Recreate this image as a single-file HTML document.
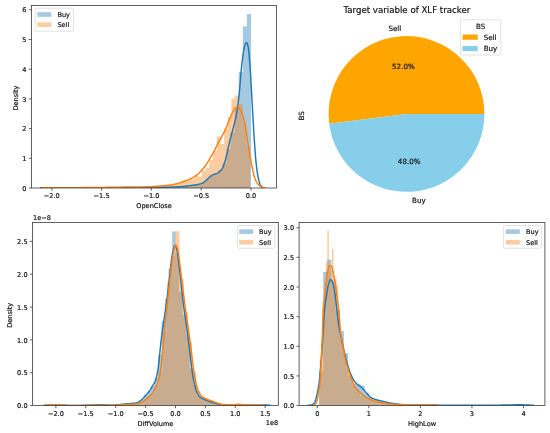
<!DOCTYPE html>
<html lang="en"><head><meta charset="utf-8"><title>Target variable of XLF tracker</title>
<style>html,body{margin:0;padding:0;background:#fff}body{width:550px;height:433px;overflow:hidden}svg{display:block;filter:blur(0.35px)}text{font-family:"DejaVu Sans","Liberation Sans",sans-serif}</style>
</head><body>
<svg width="550" height="433" viewBox="0 0 550 433" font-family="'DejaVu Sans', 'Liberation Sans', sans-serif">
<rect width="550" height="433" fill="#fff"/>
<clipPath id="c1"><rect x="31.5" y="5.5" width="245.0" height="182.5"/></clipPath>
<g clip-path="url(#c1)">
<path d="M246.90,188.00V14.00H251.00V188.00ZM242.80,188.00V26.20H246.90V188.00ZM238.70,188.00V72.00H242.80V188.00ZM234.60,188.00V108.00H238.70V188.00ZM230.50,188.00V132.13H234.60V188.00ZM226.40,188.00V149.34H230.50V188.00ZM222.30,188.00V163.29H226.40V188.00ZM218.20,188.00V169.76H222.30V188.00ZM214.10,188.00V174.12H218.20V188.00ZM210.00,188.00V175.79H214.10V188.00ZM205.90,188.00V178.47H210.00V188.00ZM201.80,188.00V182.09H205.90V188.00ZM197.70,188.00V183.99H201.80V188.00ZM193.60,188.00V185.03H197.70V188.00ZM189.50,188.00V185.40H193.60V188.00ZM185.40,188.00V185.90H189.50V188.00ZM181.30,188.00V186.57H185.40V188.00ZM177.20,188.00V186.75H181.30V188.00ZM173.10,188.00V187.04H177.20V188.00ZM169.00,188.00V187.14H173.10V188.00ZM164.90,188.00V187.28H169.00V188.00ZM160.80,188.00V187.30H164.90V188.00ZM156.70,188.00V187.42H160.80V188.00ZM152.60,188.00V187.43H156.70V188.00ZM148.50,188.00V187.49H152.60V188.00ZM144.40,188.00V187.54H148.50V188.00ZM140.30,188.00V187.64H144.40V188.00ZM136.20,188.00V187.62H140.30V188.00ZM132.10,188.00V187.64H136.20V188.00ZM128.00,188.00V187.66H132.10V188.00ZM123.90,188.00V187.71H128.00V188.00ZM119.80,188.00V187.70H123.90V188.00ZM115.70,188.00V187.72H119.80V188.00ZM111.60,188.00V187.73H115.70V188.00ZM107.50,188.00V187.71H111.60V188.00ZM103.40,188.00V187.74H107.50V188.00ZM99.30,188.00V187.74H103.40V188.00ZM95.20,188.00V187.73H99.30V188.00ZM91.10,188.00V187.76H95.20V188.00ZM87.00,188.00V187.76H91.10V188.00Z" fill="#1f77b4" fill-opacity="0.4"/>
<path d="M246.30,188.00V147.00H250.00V188.00ZM242.60,188.00V121.70H246.30V188.00ZM238.90,188.00V104.00H242.60V188.00ZM235.20,188.00V95.50H238.90V188.00ZM231.50,188.00V98.60H235.20V188.00ZM227.80,188.00V117.00H231.50V188.00ZM224.10,188.00V128.80H227.80V188.00ZM220.40,188.00V144.00H224.10V188.00ZM216.70,188.00V136.40H220.40V188.00ZM213.00,188.00V151.00H216.70V188.00ZM209.30,188.00V160.00H213.00V188.00ZM205.60,188.00V168.00H209.30V188.00ZM201.90,188.00V170.50H205.60V188.00ZM198.20,188.00V176.50H201.90V188.00ZM194.50,188.00V175.50H198.20V188.00ZM190.80,188.00V179.00H194.50V188.00ZM187.10,188.00V179.52H190.80V188.00ZM183.40,188.00V180.34H187.10V188.00ZM179.70,188.00V181.26H183.40V188.00ZM176.00,188.00V183.82H179.70V188.00ZM172.30,188.00V184.22H176.00V188.00ZM168.60,188.00V185.11H172.30V188.00ZM164.90,188.00V185.35H168.60V188.00ZM161.20,188.00V186.07H164.90V188.00ZM157.50,188.00V186.19H161.20V188.00ZM153.80,188.00V186.36H157.50V188.00ZM150.10,188.00V186.43H153.80V188.00ZM146.40,188.00V186.64H150.10V188.00ZM142.70,188.00V187.08H146.40V188.00ZM139.00,188.00V187.04H142.70V188.00ZM135.30,188.00V186.88H139.00V188.00ZM131.60,188.00V187.22H135.30V188.00ZM127.90,188.00V187.06H131.60V188.00ZM124.20,188.00V187.06H127.90V188.00ZM120.50,188.00V186.97H124.20V188.00ZM116.80,188.00V187.10H120.50V188.00ZM113.10,188.00V187.26H116.80V188.00ZM109.40,188.00V187.32H113.10V188.00ZM105.70,188.00V187.35H109.40V188.00ZM102.00,188.00V187.26H105.70V188.00ZM98.30,188.00V187.44H102.00V188.00ZM94.60,188.00V187.47H98.30V188.00ZM90.90,188.00V187.47H94.60V188.00ZM87.20,188.00V187.53H90.90V188.00ZM83.50,188.00V187.57H87.20V188.00ZM79.80,188.00V187.64H83.50V188.00ZM76.10,188.00V187.61H79.80V188.00ZM72.40,188.00V187.66H76.10V188.00ZM68.70,188.00V187.62H72.40V188.00ZM65.00,188.00V187.66H68.70V188.00ZM61.30,188.00V187.71H65.00V188.00Z" fill="#ff7f0e" fill-opacity="0.4"/>
<path d="M40.00,187.80 L40.75,187.80 L41.50,187.80 L42.25,187.80 L43.00,187.80 L43.75,187.80 L44.49,187.80 L45.24,187.80 L45.99,187.80 L46.74,187.80 L47.49,187.80 L48.24,187.80 L48.99,187.80 L49.74,187.80 L50.49,187.80 L51.24,187.80 L51.99,187.80 L52.74,187.80 L53.48,187.80 L54.23,187.80 L54.98,187.80 L55.73,187.80 L56.48,187.80 L57.23,187.79 L57.98,187.79 L58.73,187.79 L59.48,187.79 L60.23,187.79 L60.98,187.79 L61.73,187.79 L62.47,187.79 L63.22,187.79 L63.97,187.79 L64.72,187.79 L65.47,187.79 L66.22,187.79 L66.97,187.79 L67.72,187.79 L68.47,187.79 L69.22,187.79 L69.97,187.78 L70.72,187.78 L71.46,187.78 L72.21,187.78 L72.96,187.78 L73.71,187.78 L74.46,187.78 L75.21,187.78 L75.96,187.78 L76.71,187.78 L77.46,187.78 L78.21,187.78 L78.96,187.77 L79.71,187.77 L80.45,187.77 L81.20,187.77 L81.95,187.77 L82.70,187.77 L83.45,187.77 L84.20,187.77 L84.95,187.77 L85.70,187.77 L86.45,187.76 L87.20,187.76 L87.95,187.76 L88.70,187.76 L89.44,187.76 L90.19,187.76 L90.94,187.76 L91.69,187.76 L92.44,187.76 L93.19,187.75 L93.94,187.75 L94.69,187.75 L95.44,187.75 L96.19,187.75 L96.94,187.75 L97.69,187.75 L98.43,187.74 L99.18,187.74 L99.93,187.74 L100.68,187.74 L101.43,187.74 L102.18,187.74 L102.93,187.74 L103.68,187.74 L104.43,187.73 L105.18,187.73 L105.93,187.73 L106.68,187.73 L107.42,187.73 L108.17,187.73 L108.92,187.72 L109.67,187.72 L110.42,187.72 L111.17,187.72 L111.92,187.72 L112.67,187.72 L113.42,187.71 L114.17,187.71 L114.92,187.71 L115.67,187.71 L116.41,187.71 L117.16,187.71 L117.91,187.70 L118.66,187.70 L119.41,187.70 L120.16,187.70 L120.91,187.70 L121.66,187.70 L122.41,187.69 L123.16,187.69 L123.91,187.69 L124.66,187.69 L125.40,187.68 L126.15,187.68 L126.90,187.68 L127.65,187.67 L128.40,187.67 L129.15,187.67 L129.90,187.66 L130.65,187.66 L131.40,187.65 L132.15,187.65 L132.90,187.64 L133.65,187.64 L134.39,187.63 L135.14,187.63 L135.89,187.62 L136.64,187.62 L137.39,187.61 L138.14,187.61 L138.89,187.60 L139.64,187.60 L140.39,187.59 L141.14,187.58 L141.89,187.58 L142.64,187.57 L143.38,187.56 L144.13,187.56 L144.88,187.55 L145.63,187.54 L146.38,187.54 L147.13,187.53 L147.88,187.52 L148.63,187.51 L149.38,187.51 L150.13,187.50 L150.88,187.49 L151.63,187.48 L152.37,187.47 L153.12,187.46 L153.87,187.45 L154.62,187.44 L155.37,187.43 L156.12,187.42 L156.87,187.41 L157.62,187.39 L158.37,187.38 L159.12,187.36 L159.87,187.35 L160.62,187.34 L161.36,187.32 L162.11,187.30 L162.86,187.29 L163.61,187.27 L164.36,187.25 L165.11,187.23 L165.86,187.21 L166.61,187.19 L167.36,187.17 L168.11,187.15 L168.86,187.13 L169.61,187.11 L170.35,187.09 L171.10,187.07 L171.85,187.04 L172.60,187.02 L173.35,186.99 L174.10,186.96 L174.85,186.93 L175.60,186.90 L176.35,186.86 L177.10,186.82 L177.85,186.79 L178.60,186.75 L179.34,186.70 L180.09,186.66 L180.84,186.61 L181.59,186.56 L182.34,186.51 L183.09,186.46 L183.84,186.40 L184.59,186.34 L185.34,186.26 L186.09,186.17 L186.84,186.07 L187.59,185.97 L188.33,185.86 L189.08,185.75 L189.83,185.64 L190.58,185.53 L191.33,185.43 L192.08,185.33 L192.83,185.24 L193.58,185.14 L194.33,185.04 L195.08,184.94 L195.83,184.83 L196.58,184.71 L197.32,184.57 L198.07,184.42 L198.82,184.26 L199.57,184.07 L200.32,183.85 L201.07,183.61 L201.82,183.33 L202.57,182.99 L203.32,182.56 L204.07,182.06 L204.82,181.51 L205.57,180.94 L206.31,180.34 L207.06,179.65 L207.81,178.89 L208.56,178.11 L209.31,177.36 L210.06,176.71 L210.81,176.15 L211.56,175.63 L212.31,175.17 L213.06,174.77 L213.81,174.46 L214.56,174.20 L215.30,173.96 L216.05,173.73 L216.80,173.46 L217.55,173.13 L218.30,172.71 L219.05,172.18 L219.80,171.56 L220.55,170.81 L221.30,169.94 L222.05,168.93 L222.80,167.56 L223.55,165.72 L224.29,163.55 L225.04,161.17 L225.79,158.61 L226.54,155.53 L227.29,152.13 L228.04,148.71 L228.79,145.35 L229.54,141.97 L230.29,138.85 L231.04,136.00 L231.79,133.30 L232.54,130.62 L233.28,127.84 L234.03,124.96 L234.78,122.15 L235.53,119.10 L236.28,115.50 L237.03,111.15 L237.78,106.02 L238.53,100.07 L239.28,93.23 L240.03,84.44 L240.78,74.95 L241.53,67.16 L242.27,60.36 L243.02,54.85 L243.77,50.26 L244.52,46.56 L245.27,44.34 L246.02,42.85 L246.77,42.65 L247.52,44.33 L248.27,47.33 L249.02,53.95 L249.77,63.03 L250.52,73.48 L251.26,86.67 L252.01,100.23 L252.76,113.68 L253.51,127.06 L254.26,139.00 L255.01,150.18 L255.76,159.62 L256.51,166.43 L257.26,172.18 L258.01,176.83 L258.76,180.21 L259.51,182.77 L260.25,184.78 L261.00,186.00 L261.75,186.71 L262.50,187.28 L263.25,187.66 L264.00,187.80" fill="none" stroke="#1f77b4" stroke-width="1.45" stroke-linejoin="round"/>
<path d="M42.00,187.80 L42.75,187.80 L43.50,187.80 L44.25,187.79 L45.00,187.79 L45.75,187.79 L46.49,187.79 L47.24,187.78 L47.99,187.78 L48.74,187.78 L49.49,187.78 L50.24,187.77 L50.99,187.77 L51.74,187.77 L52.49,187.76 L53.24,187.76 L53.99,187.76 L54.74,187.75 L55.48,187.75 L56.23,187.75 L56.98,187.74 L57.73,187.74 L58.48,187.73 L59.23,187.73 L59.98,187.73 L60.73,187.72 L61.48,187.72 L62.23,187.71 L62.98,187.71 L63.73,187.71 L64.47,187.70 L65.22,187.70 L65.97,187.69 L66.72,187.69 L67.47,187.68 L68.22,187.68 L68.97,187.67 L69.72,187.67 L70.47,187.66 L71.22,187.66 L71.97,187.65 L72.72,187.65 L73.46,187.64 L74.21,187.64 L74.96,187.63 L75.71,187.63 L76.46,187.62 L77.21,187.62 L77.96,187.61 L78.71,187.61 L79.46,187.60 L80.21,187.60 L80.96,187.59 L81.71,187.59 L82.45,187.58 L83.20,187.58 L83.95,187.57 L84.70,187.56 L85.45,187.56 L86.20,187.55 L86.95,187.55 L87.70,187.54 L88.45,187.53 L89.20,187.53 L89.95,187.52 L90.70,187.51 L91.44,187.50 L92.19,187.50 L92.94,187.49 L93.69,187.48 L94.44,187.48 L95.19,187.47 L95.94,187.46 L96.69,187.45 L97.44,187.44 L98.19,187.44 L98.94,187.43 L99.69,187.42 L100.43,187.41 L101.18,187.40 L101.93,187.39 L102.68,187.39 L103.43,187.38 L104.18,187.37 L104.93,187.36 L105.68,187.35 L106.43,187.34 L107.18,187.33 L107.93,187.33 L108.68,187.32 L109.42,187.31 L110.17,187.30 L110.92,187.29 L111.67,187.28 L112.42,187.27 L113.17,187.26 L113.92,187.24 L114.67,187.23 L115.42,187.22 L116.17,187.21 L116.92,187.20 L117.67,187.18 L118.41,187.17 L119.16,187.16 L119.91,187.14 L120.66,187.13 L121.41,187.12 L122.16,187.11 L122.91,187.09 L123.66,187.08 L124.41,187.07 L125.16,187.06 L125.91,187.05 L126.66,187.04 L127.40,187.03 L128.15,187.02 L128.90,187.01 L129.65,187.00 L130.40,187.00 L131.15,186.99 L131.90,186.99 L132.65,186.98 L133.40,186.98 L134.15,186.97 L134.90,186.97 L135.65,186.96 L136.39,186.96 L137.14,186.96 L137.89,186.95 L138.64,186.95 L139.39,186.95 L140.14,186.94 L140.89,186.94 L141.64,186.93 L142.39,186.93 L143.14,186.92 L143.89,186.91 L144.64,186.90 L145.38,186.89 L146.13,186.88 L146.88,186.86 L147.63,186.83 L148.38,186.80 L149.13,186.76 L149.88,186.72 L150.63,186.67 L151.38,186.63 L152.13,186.58 L152.88,186.52 L153.63,186.47 L154.37,186.41 L155.12,186.36 L155.87,186.30 L156.62,186.25 L157.37,186.19 L158.12,186.14 L158.87,186.09 L159.62,186.03 L160.37,185.97 L161.12,185.91 L161.87,185.85 L162.62,185.79 L163.36,185.72 L164.11,185.65 L164.86,185.58 L165.61,185.50 L166.36,185.43 L167.11,185.35 L167.86,185.26 L168.61,185.17 L169.36,185.08 L170.11,184.99 L170.86,184.88 L171.61,184.77 L172.35,184.64 L173.10,184.51 L173.85,184.37 L174.60,184.21 L175.35,184.05 L176.10,183.89 L176.85,183.71 L177.60,183.52 L178.35,183.31 L179.10,183.09 L179.85,182.85 L180.60,182.59 L181.34,182.33 L182.09,182.06 L182.84,181.79 L183.59,181.51 L184.34,181.24 L185.09,180.97 L185.84,180.69 L186.59,180.41 L187.34,180.12 L188.09,179.81 L188.84,179.50 L189.59,179.17 L190.33,178.82 L191.08,178.46 L191.83,178.08 L192.58,177.68 L193.33,177.26 L194.08,176.82 L194.83,176.35 L195.58,175.86 L196.33,175.34 L197.08,174.78 L197.83,174.20 L198.58,173.56 L199.32,172.86 L200.07,172.10 L200.82,171.30 L201.57,170.45 L202.32,169.57 L203.07,168.65 L203.82,167.71 L204.57,166.74 L205.32,165.74 L206.07,164.67 L206.82,163.55 L207.57,162.38 L208.31,161.18 L209.06,159.94 L209.81,158.67 L210.56,157.39 L211.31,156.10 L212.06,154.79 L212.81,153.44 L213.56,152.05 L214.31,150.62 L215.06,149.18 L215.81,147.72 L216.56,146.25 L217.30,144.79 L218.05,143.35 L218.80,141.93 L219.55,140.55 L220.30,139.20 L221.05,137.86 L221.80,136.51 L222.55,135.15 L223.30,133.75 L224.05,132.30 L224.80,130.78 L225.55,129.18 L226.29,127.42 L227.04,125.51 L227.79,123.53 L228.54,121.56 L229.29,119.66 L230.04,117.91 L230.79,116.23 L231.54,114.55 L232.29,112.95 L233.04,111.51 L233.79,110.29 L234.54,109.27 L235.28,108.26 L236.03,107.41 L236.78,106.89 L237.53,106.84 L238.28,107.22 L239.03,107.90 L239.78,108.74 L240.53,109.83 L241.28,111.54 L242.03,113.62 L242.78,115.82 L243.53,118.29 L244.27,121.16 L245.02,124.56 L245.77,128.86 L246.52,133.80 L247.27,138.98 L248.02,144.02 L248.77,148.58 L249.52,152.90 L250.27,157.08 L251.02,161.09 L251.77,165.08 L252.52,168.99 L253.26,172.47 L254.01,175.30 L254.76,177.80 L255.51,179.90 L256.26,181.51 L257.01,182.83 L257.76,183.94 L258.51,184.81 L259.26,185.50 L260.01,186.12 L260.76,186.63 L261.51,187.02 L262.25,187.27 L263.00,187.47 L263.75,187.64 L264.50,187.78 L265.25,187.87 L266.00,187.90" fill="none" stroke="#ff7f0e" stroke-width="1.45" stroke-linejoin="round"/>
</g>
<rect x="31.5" y="5.5" width="245.0" height="182.5" fill="none" stroke="#3a3a3a" stroke-width="0.8"/>
<text x="51.80" y="198.30" font-size="6.6" text-anchor="middle" fill="#111" stroke="#111" stroke-width="0.18">−2.0</text>
<text x="101.60" y="198.30" font-size="6.6" text-anchor="middle" fill="#111" stroke="#111" stroke-width="0.18">−1.5</text>
<text x="151.40" y="198.30" font-size="6.6" text-anchor="middle" fill="#111" stroke="#111" stroke-width="0.18">−1.0</text>
<text x="201.20" y="198.30" font-size="6.6" text-anchor="middle" fill="#111" stroke="#111" stroke-width="0.18">−0.5</text>
<text x="251.00" y="198.30" font-size="6.6" text-anchor="middle" fill="#111" stroke="#111" stroke-width="0.18">0.0</text>
<text x="26.50" y="190.65" font-size="6.6" text-anchor="end" fill="#111" stroke="#111" stroke-width="0.18">0</text>
<text x="26.50" y="160.95" font-size="6.6" text-anchor="end" fill="#111" stroke="#111" stroke-width="0.18">1</text>
<text x="26.50" y="131.25" font-size="6.6" text-anchor="end" fill="#111" stroke="#111" stroke-width="0.18">2</text>
<text x="26.50" y="101.55" font-size="6.6" text-anchor="end" fill="#111" stroke="#111" stroke-width="0.18">3</text>
<text x="26.50" y="71.85" font-size="6.6" text-anchor="end" fill="#111" stroke="#111" stroke-width="0.18">4</text>
<text x="26.50" y="42.15" font-size="6.6" text-anchor="end" fill="#111" stroke="#111" stroke-width="0.18">5</text>
<text x="26.50" y="12.45" font-size="6.6" text-anchor="end" fill="#111" stroke="#111" stroke-width="0.18">6</text>
<path d="M51.80,188.0v2.6M101.60,188.0v2.6M151.40,188.0v2.6M201.20,188.0v2.6M251.00,188.0v2.6M31.5,188.00h-2.6M31.5,158.30h-2.6M31.5,128.60h-2.6M31.5,98.90h-2.6M31.5,69.20h-2.6M31.5,39.50h-2.6M31.5,9.80h-2.6" stroke="#3a3a3a" stroke-width="0.8" fill="none"/>
<text x="154.00" y="208.00" font-size="6.6" text-anchor="middle" fill="#111" stroke="#111" stroke-width="0.18">OpenClose</text>
<text x="18.10" y="98.05" font-size="6.6" text-anchor="middle" fill="#111" stroke="#111" stroke-width="0.18" transform="rotate(-90 18.10 98.05)">Density</text>
<rect x="35.1" y="8.2" width="38.50" height="23.00" rx="1.3" fill="#fff" fill-opacity="0.8" stroke="#ccc" stroke-width="0.6"/>
<rect x="37.30" y="12.20" width="14.0" height="4.6" fill="#1f77b4" fill-opacity="0.4"/>
<text x="57.40" y="16.91" font-size="6.6" text-anchor="start" fill="#111" stroke="#111" stroke-width="0.18">Buy</text>
<rect x="37.30" y="22.40" width="14.0" height="4.6" fill="#ff7f0e" fill-opacity="0.4"/>
<text x="57.40" y="27.11" font-size="6.6" text-anchor="start" fill="#111" stroke="#111" stroke-width="0.18">Sell</text>
<path d="M406.5,113.9L484.4,113.9A77.9,77.9 0 1 0 329.21,123.66Z" fill="#ffa500"/>
<path d="M406.5,113.9L329.21,123.66A77.9,77.9 0 0 0 484.4,113.9Z" fill="#87ceeb"/>
<text x="406.90" y="12.60" font-size="8.65" text-anchor="middle" fill="#111" stroke="#111" stroke-width="0.18">Target variable of XLF tracker</text>
<text x="394.90" y="30.80" font-size="7.15" text-anchor="middle" fill="#111" stroke="#111" stroke-width="0.18">Sell</text>
<text x="418.90" y="202.50" font-size="7.15" text-anchor="middle" fill="#111" stroke="#111" stroke-width="0.18">Buy</text>
<text x="403.40" y="69.40" font-size="7.15" text-anchor="middle" fill="#111" stroke="#111" stroke-width="0.18">52.0%</text>
<text x="409.20" y="163.50" font-size="7.15" text-anchor="middle" fill="#111" stroke="#111" stroke-width="0.18">48.0%</text>
<text x="304.10" y="115.80" font-size="7.15" text-anchor="middle" fill="#111" stroke="#111" stroke-width="0.18" transform="rotate(-90 304.10 115.80)">BS</text>
<rect x="460.4" y="19.8" width="40.40" height="35.20" rx="1.3" fill="#fff" fill-opacity="0.8" stroke="#ccc" stroke-width="0.6"/>
<rect x="462.50" y="34.55" width="15.2" height="5.2" fill="#ffa500" fill-opacity="1"/>
<text x="483.70" y="39.76" font-size="7.15" text-anchor="start" fill="#111" stroke="#111" stroke-width="0.18">Sell</text>
<rect x="462.50" y="45.90" width="15.2" height="5.2" fill="#87ceeb" fill-opacity="1"/>
<text x="483.70" y="51.11" font-size="7.15" text-anchor="start" fill="#111" stroke="#111" stroke-width="0.18">Buy</text>
<text x="480.60" y="28.90" font-size="7.15" text-anchor="middle" fill="#111" stroke="#111" stroke-width="0.18">BS</text>
<clipPath id="c3"><rect x="32.6" y="222.4" width="245.70000000000002" height="183.20000000000002"/></clipPath>
<g clip-path="url(#c3)">
<path d="M67.10,405.60V405.38H70.60V405.60ZM70.60,405.60V405.40H74.10V405.60ZM74.10,405.60V405.38H77.60V405.60ZM77.60,405.60V405.36H81.10V405.60ZM81.10,405.60V405.32H84.60V405.60ZM84.60,405.60V405.31H88.10V405.60ZM88.10,405.60V405.17H91.60V405.60ZM91.60,405.60V405.04H95.10V405.60ZM95.10,405.60V404.88H98.60V405.60ZM98.60,405.60V404.72H102.10V405.60ZM102.10,405.60V404.80H105.60V405.60ZM105.60,405.60V405.04H109.10V405.60ZM109.10,405.60V405.16H112.60V405.60ZM112.60,405.60V405.09H116.10V405.60ZM116.10,405.60V404.82H119.60V405.60ZM119.60,405.60V404.44H123.10V405.60ZM123.10,405.60V403.94H126.60V405.60ZM126.60,405.60V403.68H130.10V405.60ZM130.10,405.60V403.41H133.60V405.60ZM133.60,405.60V402.98H137.10V405.60ZM137.10,405.60V401.80H140.60V405.60ZM140.60,405.60V399.28H144.10V405.60ZM144.10,405.60V395.30H147.60V405.60ZM147.60,405.60V390.98H151.10V405.60ZM151.10,405.60V386.31H154.60V405.60ZM154.60,405.60V377.53H158.10V405.60ZM158.10,405.60V354.64H161.60V405.60ZM161.60,405.60V321.03H165.10V405.60ZM165.10,405.60V298.79H168.60V405.60ZM168.60,405.60V268.73H172.10V405.60ZM172.10,405.60V231.50H175.60V405.60ZM175.60,405.60V252.89H179.10V405.60ZM179.10,405.60V291.69H182.60V405.60ZM182.60,405.60V315.33H186.10V405.60ZM186.10,405.60V334.79H189.60V405.60ZM189.60,405.60V368.56H193.10V405.60ZM193.10,405.60V384.92H196.60V405.60ZM196.60,405.60V395.87H200.10V405.60ZM200.10,405.60V398.02H203.60V405.60ZM203.60,405.60V400.10H207.10V405.60ZM207.10,405.60V401.20H210.60V405.60ZM210.60,405.60V402.44H214.10V405.60ZM214.10,405.60V403.55H217.60V405.60ZM217.60,405.60V404.18H221.10V405.60ZM221.10,405.60V404.65H224.60V405.60ZM224.60,405.60V405.03H228.10V405.60ZM228.10,405.60V405.10H231.60V405.60ZM231.60,405.60V405.07H235.10V405.60ZM235.10,405.60V405.05H238.60V405.60ZM238.60,405.60V404.97H242.10V405.60ZM242.10,405.60V405.06H245.60V405.60ZM245.60,405.60V405.18H249.10V405.60ZM249.10,405.60V405.29H252.60V405.60ZM252.60,405.60V405.30H256.10V405.60ZM256.10,405.60V405.23H259.60V405.60ZM259.60,405.60V405.07H263.10V405.60ZM263.10,405.60V405.02H266.60V405.60Z" fill="#1f77b4" fill-opacity="0.4"/>
<path d="M49.30,405.60V404.90H53.50V405.60ZM53.50,405.60V404.94H57.70V405.60ZM57.70,405.60V405.20H61.90V405.60ZM61.90,405.60V405.32H66.10V405.60ZM66.10,405.60V405.36H70.30V405.60ZM70.30,405.60V405.38H74.50V405.60ZM74.50,405.60V405.40H78.70V405.60ZM78.70,405.60V405.40H82.90V405.60ZM82.90,405.60V405.38H87.10V405.60ZM87.10,405.60V405.29H91.30V405.60ZM91.30,405.60V405.16H95.50V405.60ZM95.50,405.60V405.13H99.70V405.60ZM99.70,405.60V405.12H103.90V405.60ZM103.90,405.60V405.15H108.10V405.60ZM108.10,405.60V405.22H112.30V405.60ZM112.30,405.60V405.32H116.50V405.60ZM116.50,405.60V405.16H120.70V405.60ZM120.70,405.60V404.76H124.90V405.60ZM124.90,405.60V404.49H129.10V405.60ZM129.10,405.60V404.16H133.30V405.60ZM133.30,405.60V403.95H137.50V405.60ZM137.50,405.60V403.24H141.70V405.60ZM141.70,405.60V401.14H145.90V405.60ZM145.90,405.60V397.61H150.10V405.60ZM150.10,405.60V393.76H154.30V405.60ZM154.30,405.60V385.70H158.50V405.60ZM158.50,405.60V371.58H162.70V405.60ZM162.70,405.60V331.89H166.90V405.60ZM166.90,405.60V281.83H171.10V405.60ZM171.10,405.60V256.12H175.30V405.60ZM175.30,405.60V231.30H179.50V405.60ZM179.50,405.60V278.66H183.70V405.60ZM183.70,405.60V312.61H187.90V405.60ZM187.90,405.60V342.08H192.10V405.60ZM192.10,405.60V372.40H196.30V405.60ZM196.30,405.60V391.10H200.50V405.60ZM200.50,405.60V396.92H204.70V405.60ZM204.70,405.60V399.10H208.90V405.60ZM208.90,405.60V400.53H213.10V405.60ZM213.10,405.60V402.20H217.30V405.60ZM217.30,405.60V403.78H221.50V405.60ZM221.50,405.60V404.57H225.70V405.60ZM225.70,405.60V404.71H229.90V405.60ZM229.90,405.60V404.66H234.10V405.60ZM234.10,405.60V404.41H238.30V405.60ZM238.30,405.60V404.36H242.50V405.60ZM242.50,405.60V404.70H246.70V405.60ZM246.70,405.60V404.98H250.90V405.60ZM250.90,405.60V405.02H255.10V405.60ZM255.10,405.60V405.04H259.30V405.60ZM259.30,405.60V405.13H263.50V405.60Z" fill="#ff7f0e" fill-opacity="0.4"/>
<path d="M43.70,405.30 L44.27,405.27 L44.84,405.25 L45.41,405.22 L45.98,405.20 L46.54,405.18 L47.11,405.16 L47.68,405.14 L48.25,405.12 L48.82,405.10 L49.39,405.09 L49.96,405.07 L50.53,405.06 L51.10,405.05 L51.66,405.04 L52.23,405.03 L52.80,405.02 L53.37,405.01 L53.94,405.01 L54.51,405.00 L55.08,405.00 L55.65,405.00 L56.22,405.00 L56.79,405.01 L57.35,405.01 L57.92,405.02 L58.49,405.04 L59.06,405.05 L59.63,405.07 L60.20,405.09 L60.77,405.11 L61.34,405.13 L61.91,405.15 L62.47,405.17 L63.04,405.19 L63.61,405.22 L64.18,405.24 L64.75,405.26 L65.32,405.28 L65.89,405.30 L66.46,405.32 L67.03,405.34 L67.59,405.36 L68.16,405.37 L68.73,405.38 L69.30,405.39 L69.87,405.40 L70.44,405.40 L71.01,405.40 L71.58,405.40 L72.15,405.40 L72.72,405.40 L73.28,405.40 L73.85,405.39 L74.42,405.39 L74.99,405.39 L75.56,405.39 L76.13,405.38 L76.70,405.38 L77.27,405.38 L77.84,405.37 L78.40,405.37 L78.97,405.37 L79.54,405.36 L80.11,405.36 L80.68,405.35 L81.25,405.35 L81.82,405.34 L82.39,405.34 L82.96,405.33 L83.52,405.32 L84.09,405.32 L84.66,405.31 L85.23,405.31 L85.80,405.30 L86.37,405.29 L86.94,405.28 L87.51,405.26 L88.08,405.24 L88.64,405.22 L89.21,405.20 L89.78,405.18 L90.35,405.15 L90.92,405.12 L91.49,405.09 L92.06,405.07 L92.63,405.03 L93.20,405.00 L93.77,404.97 L94.33,404.94 L94.90,404.91 L95.47,404.89 L96.04,404.86 L96.61,404.83 L97.18,404.81 L97.75,404.78 L98.32,404.76 L98.89,404.74 L99.45,404.73 L100.02,404.72 L100.59,404.71 L101.16,404.70 L101.73,404.70 L102.30,404.71 L102.87,404.72 L103.44,404.75 L104.01,404.78 L104.57,404.82 L105.14,404.86 L105.71,404.91 L106.28,404.96 L106.85,405.00 L107.42,405.05 L107.99,405.09 L108.56,405.13 L109.13,405.16 L109.69,405.18 L110.26,405.20 L110.83,405.20 L111.40,405.19 L111.97,405.18 L112.54,405.16 L113.11,405.14 L113.68,405.11 L114.25,405.08 L114.82,405.04 L115.38,405.00 L115.95,404.96 L116.52,404.91 L117.09,404.87 L117.66,404.82 L118.23,404.77 L118.80,404.72 L119.37,404.68 L119.94,404.62 L120.50,404.55 L121.07,404.48 L121.64,404.40 L122.21,404.32 L122.78,404.24 L123.35,404.16 L123.92,404.09 L124.49,404.01 L125.06,403.95 L125.62,403.89 L126.19,403.84 L126.76,403.79 L127.33,403.74 L127.90,403.70 L128.47,403.66 L129.04,403.62 L129.61,403.58 L130.18,403.54 L130.75,403.49 L131.31,403.44 L131.88,403.39 L132.45,403.34 L133.02,403.29 L133.59,403.24 L134.16,403.19 L134.73,403.13 L135.30,403.06 L135.87,402.98 L136.43,402.89 L137.00,402.78 L137.57,402.59 L138.14,402.32 L138.71,401.97 L139.28,401.58 L139.85,401.15 L140.42,400.72 L140.99,400.28 L141.55,399.78 L142.12,399.23 L142.69,398.65 L143.26,398.04 L143.83,397.42 L144.40,396.81 L144.97,396.20 L145.54,395.60 L146.11,394.99 L146.67,394.37 L147.24,393.72 L147.81,393.04 L148.38,392.32 L148.95,391.56 L149.52,390.75 L150.09,389.90 L150.66,389.02 L151.23,388.11 L151.80,387.18 L152.36,386.23 L152.93,385.33 L153.50,384.44 L154.07,383.50 L154.64,382.46 L155.21,381.24 L155.78,379.78 L156.35,377.83 L156.92,375.33 L157.48,372.38 L158.05,369.04 L158.62,364.70 L159.19,359.46 L159.76,353.75 L160.33,347.98 L160.90,342.57 L161.47,337.87 L162.04,333.53 L162.60,329.39 L163.17,325.41 L163.74,321.52 L164.31,317.68 L164.88,313.83 L165.45,309.90 L166.02,305.86 L166.59,301.64 L167.16,297.19 L167.73,292.56 L168.29,287.79 L168.86,282.91 L169.43,277.93 L170.00,272.54 L170.57,267.19 L171.14,262.45 L171.71,258.38 L172.28,254.61 L172.85,251.48 L173.41,249.23 L173.98,247.26 L174.55,245.81 L175.12,245.43 L175.69,246.21 L176.26,247.77 L176.83,249.74 L177.40,252.44 L177.97,256.47 L178.53,261.15 L179.10,265.84 L179.67,270.78 L180.24,276.07 L180.81,281.43 L181.38,286.61 L181.95,291.76 L182.52,296.79 L183.09,301.49 L183.65,305.91 L184.22,310.14 L184.79,314.22 L185.36,318.21 L185.93,322.15 L186.50,326.11 L187.07,330.11 L187.64,334.23 L188.21,338.50 L188.78,343.01 L189.34,347.84 L189.91,352.83 L190.48,357.82 L191.05,362.67 L191.62,367.21 L192.19,371.32 L192.76,375.12 L193.33,378.54 L193.90,381.45 L194.46,384.02 L195.03,386.31 L195.60,388.35 L196.17,390.24 L196.74,391.91 L197.31,393.22 L197.88,394.33 L198.45,395.29 L199.02,396.08 L199.58,396.68 L200.15,397.14 L200.72,397.56 L201.29,397.92 L201.86,398.24 L202.43,398.54 L203.00,398.81 L203.57,399.08 L204.14,399.34 L204.71,399.60 L205.27,399.87 L205.84,400.13 L206.41,400.37 L206.98,400.61 L207.55,400.84 L208.12,401.06 L208.69,401.28 L209.26,401.48 L209.83,401.68 L210.39,401.86 L210.96,402.04 L211.53,402.22 L212.10,402.39 L212.67,402.55 L213.24,402.71 L213.81,402.86 L214.38,403.01 L214.95,403.17 L215.51,403.32 L216.08,403.48 L216.65,403.63 L217.22,403.79 L217.79,403.93 L218.36,404.06 L218.93,404.17 L219.50,404.27 L220.07,404.35 L220.63,404.43 L221.20,404.50 L221.77,404.57 L222.34,404.65 L222.91,404.71 L223.48,404.78 L224.05,404.84 L224.62,404.89 L225.19,404.94 L225.76,404.99 L226.32,405.02 L226.89,405.06 L227.46,405.08 L228.03,405.09 L228.60,405.10 L229.17,405.10 L229.74,405.10 L230.31,405.10 L230.88,405.09 L231.44,405.09 L232.01,405.08 L232.58,405.08 L233.15,405.07 L233.72,405.06 L234.29,405.06 L234.86,405.05 L235.43,405.04 L236.00,405.03 L236.56,405.03 L237.13,405.02 L237.70,405.02 L238.27,405.01 L238.84,405.01 L239.41,405.00 L239.98,405.00 L240.55,405.00 L241.12,405.00 L241.68,405.01 L242.25,405.01 L242.82,405.02 L243.39,405.04 L243.96,405.05 L244.53,405.07 L245.10,405.09 L245.67,405.11 L246.24,405.13 L246.81,405.15 L247.37,405.18 L247.94,405.20 L248.51,405.22 L249.08,405.23 L249.65,405.25 L250.22,405.27 L250.79,405.28 L251.36,405.29 L251.93,405.30 L252.49,405.30 L253.06,405.30 L253.63,405.30 L254.20,405.29 L254.77,405.28 L255.34,405.27 L255.91,405.26 L256.48,405.25 L257.05,405.23 L257.61,405.22 L258.18,405.20 L258.75,405.18 L259.32,405.16 L259.89,405.14 L260.46,405.13 L261.03,405.11 L261.60,405.09 L262.17,405.07 L262.74,405.06 L263.30,405.04 L263.87,405.03 L264.44,405.02 L265.01,405.01 L265.58,405.01 L266.15,405.00 L266.72,405.00 L267.29,405.01 L267.86,405.05 L268.42,405.11 L268.99,405.17 L269.56,405.25 L270.13,405.32 L270.70,405.40" fill="none" stroke="#1f77b4" stroke-width="1.45" stroke-linejoin="round"/>
<path d="M43.70,405.40 L44.25,405.35 L44.81,405.30 L45.36,405.25 L45.92,405.20 L46.47,405.16 L47.02,405.12 L47.58,405.09 L48.13,405.06 L48.68,405.03 L49.24,405.00 L49.79,404.98 L50.35,404.96 L50.90,404.94 L51.45,404.93 L52.01,404.91 L52.56,404.91 L53.12,404.90 L53.67,404.90 L54.22,404.90 L54.78,404.91 L55.33,404.93 L55.89,404.95 L56.44,404.98 L56.99,405.01 L57.55,405.05 L58.10,405.08 L58.65,405.12 L59.21,405.15 L59.76,405.19 L60.32,405.22 L60.87,405.24 L61.42,405.27 L61.98,405.29 L62.53,405.30 L63.09,405.30 L63.64,405.31 L64.19,405.32 L64.75,405.32 L65.30,405.33 L65.86,405.33 L66.41,405.34 L66.96,405.34 L67.52,405.35 L68.07,405.35 L68.62,405.35 L69.18,405.36 L69.73,405.36 L70.29,405.37 L70.84,405.37 L71.39,405.37 L71.95,405.38 L72.50,405.38 L73.06,405.38 L73.61,405.38 L74.16,405.39 L74.72,405.39 L75.27,405.39 L75.83,405.39 L76.38,405.39 L76.93,405.40 L77.49,405.40 L78.04,405.40 L78.59,405.40 L79.15,405.40 L79.70,405.40 L80.26,405.40 L80.81,405.40 L81.36,405.40 L81.92,405.40 L82.47,405.39 L83.03,405.39 L83.58,405.38 L84.13,405.38 L84.69,405.37 L85.24,405.36 L85.80,405.35 L86.35,405.34 L86.90,405.33 L87.46,405.32 L88.01,405.31 L88.56,405.30 L89.12,405.29 L89.67,405.27 L90.23,405.26 L90.78,405.25 L91.33,405.24 L91.89,405.22 L92.44,405.21 L93.00,405.20 L93.55,405.19 L94.10,405.18 L94.66,405.17 L95.21,405.16 L95.77,405.15 L96.32,405.14 L96.87,405.13 L97.43,405.12 L97.98,405.12 L98.53,405.11 L99.09,405.11 L99.64,405.10 L100.20,405.10 L100.75,405.10 L101.30,405.10 L101.86,405.10 L102.41,405.11 L102.97,405.11 L103.52,405.12 L104.07,405.13 L104.63,405.14 L105.18,405.14 L105.74,405.15 L106.29,405.17 L106.84,405.18 L107.40,405.19 L107.95,405.20 L108.50,405.21 L109.06,405.22 L109.61,405.23 L110.17,405.24 L110.72,405.25 L111.27,405.26 L111.83,405.27 L112.38,405.28 L112.94,405.29 L113.49,405.29 L114.04,405.30 L114.60,405.30 L115.15,405.30 L115.71,405.30 L116.26,405.29 L116.81,405.27 L117.37,405.24 L117.92,405.20 L118.47,405.16 L119.03,405.12 L119.58,405.07 L120.14,405.01 L120.69,404.96 L121.24,404.90 L121.80,404.84 L122.35,404.79 L122.91,404.73 L123.46,404.67 L124.01,404.62 L124.57,404.57 L125.12,404.53 L125.67,404.49 L126.23,404.45 L126.78,404.42 L127.34,404.39 L127.89,404.36 L128.44,404.33 L129.00,404.31 L129.55,404.28 L130.11,404.26 L130.66,404.23 L131.21,404.21 L131.77,404.18 L132.32,404.15 L132.88,404.12 L133.43,404.09 L133.98,404.05 L134.54,404.01 L135.09,403.97 L135.64,403.92 L136.20,403.87 L136.75,403.82 L137.31,403.75 L137.86,403.66 L138.41,403.55 L138.97,403.42 L139.52,403.27 L140.08,403.11 L140.63,402.92 L141.18,402.70 L141.74,402.42 L142.29,402.08 L142.85,401.70 L143.40,401.30 L143.95,400.89 L144.51,400.50 L145.06,400.10 L145.61,399.69 L146.17,399.26 L146.72,398.83 L147.28,398.37 L147.83,397.90 L148.38,397.41 L148.94,396.92 L149.49,396.42 L150.05,395.90 L150.60,395.35 L151.15,394.76 L151.71,394.12 L152.26,393.42 L152.82,392.62 L153.37,391.74 L153.92,390.76 L154.48,389.71 L155.03,388.59 L155.58,387.41 L156.14,386.19 L156.69,384.89 L157.25,383.48 L157.80,381.91 L158.35,380.16 L158.91,378.18 L159.46,375.92 L160.02,373.29 L160.57,370.19 L161.12,366.14 L161.68,360.91 L162.23,354.95 L162.79,348.72 L163.34,342.66 L163.89,337.10 L164.45,331.62 L165.00,326.14 L165.55,320.68 L166.11,315.25 L166.66,309.88 L167.22,304.57 L167.77,299.34 L168.32,294.23 L168.88,289.20 L169.43,284.22 L169.99,279.22 L170.54,274.01 L171.09,268.79 L171.65,263.97 L172.20,259.77 L172.76,255.85 L173.31,252.40 L173.86,249.74 L174.42,247.42 L174.97,245.53 L175.52,244.80 L176.08,245.28 L176.63,246.44 L177.19,248.02 L177.74,249.90 L178.29,252.94 L178.85,256.87 L179.40,261.20 L179.96,265.41 L180.51,269.63 L181.06,274.08 L181.62,278.64 L182.17,283.17 L182.73,287.59 L183.28,292.02 L183.83,296.40 L184.39,300.65 L184.94,304.76 L185.49,308.77 L186.05,312.69 L186.60,316.57 L187.16,320.42 L187.71,324.27 L188.26,328.14 L188.82,332.07 L189.37,336.08 L189.93,340.19 L190.48,344.52 L191.03,349.04 L191.59,353.66 L192.14,358.25 L192.69,362.69 L193.25,366.87 L193.80,370.68 L194.36,374.19 L194.91,377.42 L195.46,380.32 L196.02,382.96 L196.57,385.30 L197.13,387.26 L197.68,388.99 L198.23,390.51 L198.79,391.78 L199.34,392.82 L199.90,393.77 L200.45,394.62 L201.00,395.37 L201.56,395.99 L202.11,396.49 L202.66,396.91 L203.22,397.29 L203.77,397.64 L204.33,397.95 L204.88,398.24 L205.43,398.51 L205.99,398.76 L206.54,399.00 L207.10,399.24 L207.65,399.48 L208.20,399.72 L208.76,399.94 L209.31,400.15 L209.87,400.36 L210.42,400.55 L210.97,400.75 L211.53,400.94 L212.08,401.13 L212.63,401.32 L213.19,401.52 L213.74,401.73 L214.30,401.94 L214.85,402.15 L215.40,402.37 L215.96,402.58 L216.51,402.79 L217.07,402.99 L217.62,403.17 L218.17,403.36 L218.73,403.56 L219.28,403.76 L219.84,403.96 L220.39,404.14 L220.94,404.29 L221.50,404.41 L222.05,404.48 L222.60,404.51 L223.16,404.53 L223.71,404.55 L224.27,404.57 L224.82,404.59 L225.37,404.60 L225.93,404.62 L226.48,404.63 L227.04,404.64 L227.59,404.65 L228.14,404.66 L228.70,404.67 L229.25,404.68 L229.81,404.69 L230.36,404.69 L230.91,404.69 L231.47,404.70 L232.02,404.70 L232.57,404.70 L233.13,404.69 L233.68,404.67 L234.24,404.63 L234.79,404.59 L235.34,404.54 L235.90,404.48 L236.45,404.43 L237.01,404.38 L237.56,404.34 L238.11,404.31 L238.67,404.30 L239.22,404.31 L239.78,404.32 L240.33,404.35 L240.88,404.38 L241.44,404.42 L241.99,404.47 L242.54,404.52 L243.10,404.57 L243.65,404.63 L244.21,404.68 L244.76,404.74 L245.31,404.79 L245.87,404.84 L246.42,404.89 L246.98,404.93 L247.53,404.96 L248.08,404.98 L248.64,405.00 L249.19,405.01 L249.75,405.01 L250.30,405.02 L250.85,405.03 L251.41,405.03 L251.96,405.03 L252.51,405.04 L253.07,405.04 L253.62,405.04 L254.18,405.04 L254.73,405.05 L255.28,405.05 L255.84,405.05 L256.39,405.06 L256.95,405.06 L257.50,405.06 L258.05,405.07 L258.61,405.07 L259.16,405.08 L259.72,405.08 L260.27,405.09 L260.82,405.10 L261.38,405.12 L261.93,405.15 L262.48,405.19 L263.04,405.24 L263.59,405.29 L264.15,405.35 L264.70,405.40" fill="none" stroke="#ff7f0e" stroke-width="1.45" stroke-linejoin="round"/>
</g>
<rect x="32.6" y="222.4" width="245.70000000000002" height="183.20000000000002" fill="none" stroke="#3a3a3a" stroke-width="0.8"/>
<text x="55.90" y="415.90" font-size="6.6" text-anchor="middle" fill="#111" stroke="#111" stroke-width="0.18">−2.0</text>
<text x="85.80" y="415.90" font-size="6.6" text-anchor="middle" fill="#111" stroke="#111" stroke-width="0.18">−1.5</text>
<text x="115.70" y="415.90" font-size="6.6" text-anchor="middle" fill="#111" stroke="#111" stroke-width="0.18">−1.0</text>
<text x="145.60" y="415.90" font-size="6.6" text-anchor="middle" fill="#111" stroke="#111" stroke-width="0.18">−0.5</text>
<text x="175.50" y="415.90" font-size="6.6" text-anchor="middle" fill="#111" stroke="#111" stroke-width="0.18">0.0</text>
<text x="205.40" y="415.90" font-size="6.6" text-anchor="middle" fill="#111" stroke="#111" stroke-width="0.18">0.5</text>
<text x="235.30" y="415.90" font-size="6.6" text-anchor="middle" fill="#111" stroke="#111" stroke-width="0.18">1.0</text>
<text x="265.20" y="415.90" font-size="6.6" text-anchor="middle" fill="#111" stroke="#111" stroke-width="0.18">1.5</text>
<text x="27.60" y="408.25" font-size="6.6" text-anchor="end" fill="#111" stroke="#111" stroke-width="0.18">0.0</text>
<text x="27.60" y="375.40" font-size="6.6" text-anchor="end" fill="#111" stroke="#111" stroke-width="0.18">0.5</text>
<text x="27.60" y="342.55" font-size="6.6" text-anchor="end" fill="#111" stroke="#111" stroke-width="0.18">1.0</text>
<text x="27.60" y="309.70" font-size="6.6" text-anchor="end" fill="#111" stroke="#111" stroke-width="0.18">1.5</text>
<text x="27.60" y="276.85" font-size="6.6" text-anchor="end" fill="#111" stroke="#111" stroke-width="0.18">2.0</text>
<text x="27.60" y="244.00" font-size="6.6" text-anchor="end" fill="#111" stroke="#111" stroke-width="0.18">2.5</text>
<path d="M55.90,405.6v2.6M85.80,405.6v2.6M115.70,405.6v2.6M145.60,405.6v2.6M175.50,405.6v2.6M205.40,405.6v2.6M235.30,405.6v2.6M265.20,405.6v2.6M32.6,405.60h-2.6M32.6,372.75h-2.6M32.6,339.90h-2.6M32.6,307.05h-2.6M32.6,274.20h-2.6M32.6,241.35h-2.6" stroke="#3a3a3a" stroke-width="0.8" fill="none"/>
<text x="155.45" y="425.60" font-size="6.6" text-anchor="middle" fill="#111" stroke="#111" stroke-width="0.18">DiffVolume</text>
<text x="11.80" y="315.30" font-size="6.6" text-anchor="middle" fill="#111" stroke="#111" stroke-width="0.18" transform="rotate(-90 11.80 315.30)">Density</text>
<text x="33.00" y="220.00" font-size="6.6" text-anchor="start" fill="#111" stroke="#111" stroke-width="0.18">1e−8</text>
<text x="278.30" y="425.10" font-size="6.6" text-anchor="end" fill="#111" stroke="#111" stroke-width="0.18">1e8</text>
<rect x="237.3" y="225.5" width="37.60" height="22.70" rx="1.3" fill="#fff" fill-opacity="0.8" stroke="#ccc" stroke-width="0.6"/>
<rect x="239.20" y="229.30" width="14.0" height="4.6" fill="#1f77b4" fill-opacity="0.4"/>
<text x="259.10" y="234.01" font-size="6.6" text-anchor="start" fill="#111" stroke="#111" stroke-width="0.18">Buy</text>
<rect x="239.20" y="239.90" width="14.0" height="4.6" fill="#ff7f0e" fill-opacity="0.4"/>
<text x="259.10" y="244.61" font-size="6.6" text-anchor="start" fill="#111" stroke="#111" stroke-width="0.18">Sell</text>
<clipPath id="c4"><rect x="299.1" y="222.4" width="245.79999999999995" height="183.20000000000002"/></clipPath>
<g clip-path="url(#c4)">
<path d="M319.00,405.60V371.00H323.15V405.60ZM323.15,405.60V272.00H327.30V405.60ZM327.30,405.60V259.40H331.45V405.60ZM331.45,405.60V280.93H335.60V405.60ZM335.60,405.60V310.56H339.75V405.60ZM339.75,405.60V330.92H343.90V405.60ZM343.90,405.60V353.24H348.05V405.60ZM348.05,405.60V375.58H352.20V405.60ZM352.20,405.60V384.23H356.35V405.60ZM356.35,405.60V383.89H360.50V405.60ZM360.50,405.60V385.70H364.65V405.60ZM364.65,405.60V393.32H368.80V405.60ZM368.80,405.60V396.96H372.95V405.60ZM372.95,405.60V400.12H377.10V405.60ZM377.10,405.60V401.33H381.25V405.60ZM381.25,405.60V401.38H385.40V405.60ZM385.40,405.60V402.42H389.55V405.60ZM389.55,405.60V403.27H393.70V405.60ZM393.70,405.60V403.86H397.85V405.60ZM397.85,405.60V404.45H402.00V405.60ZM402.00,405.60V404.75H406.15V405.60ZM406.15,405.60V404.84H410.30V405.60ZM410.30,405.60V405.01H414.45V405.60ZM414.45,405.60V405.09H418.60V405.60ZM418.60,405.60V405.01H422.75V405.60ZM422.75,405.60V405.06H426.90V405.60ZM426.90,405.60V405.05H431.05V405.60ZM431.05,405.60V405.12H435.20V405.60ZM435.20,405.60V405.12H439.35V405.60ZM439.35,405.60V405.14H443.50V405.60ZM443.50,405.60V405.16H447.65V405.60ZM447.65,405.60V405.13H451.80V405.60ZM451.80,405.60V405.19H455.95V405.60ZM455.95,405.60V405.16H460.10V405.60ZM460.10,405.60V405.18H464.25V405.60ZM464.25,405.60V405.13H468.40V405.60ZM468.40,405.60V405.24H472.55V405.60ZM472.55,405.60V405.17H476.70V405.60ZM476.70,405.60V405.19H480.85V405.60ZM480.85,405.60V405.18H485.00V405.60ZM485.00,405.60V405.21H489.15V405.60ZM489.15,405.60V405.16H493.30V405.60ZM493.30,405.60V405.10H497.45V405.60ZM497.45,405.60V405.11H501.60V405.60ZM501.60,405.60V405.06H505.75V405.60ZM505.75,405.60V405.00H509.90V405.60ZM509.90,405.60V404.83H514.05V405.60ZM514.05,405.60V404.83H518.20V405.60ZM518.20,405.60V404.94H522.35V405.60ZM522.35,405.60V404.92H526.50V405.60ZM526.50,405.60V405.11H530.65V405.60ZM530.65,405.60V405.30H534.80V405.60Z" fill="#1f77b4" fill-opacity="0.4"/>
<path d="M319.60,405.60V360.00H321.15V405.60ZM321.15,405.60V338.63H322.70V405.60ZM322.70,405.60V305.89H324.25V405.60ZM324.25,405.60V282.00H325.80V405.60ZM325.80,405.60V262.00H327.35V405.60ZM327.35,405.60V230.20H328.90V405.60ZM328.90,405.60V268.00H330.45V405.60ZM330.45,405.60V270.00H332.00V405.60ZM332.00,405.60V249.20H333.55V405.60ZM333.55,405.60V277.78H335.10V405.60ZM335.10,405.60V278.72H336.65V405.60ZM336.65,405.60V284.80H338.20V405.60ZM338.20,405.60V310.90H339.75V405.60ZM339.75,405.60V339.59H341.30V405.60ZM341.30,405.60V338.66H342.85V405.60ZM342.85,405.60V353.67H344.40V405.60ZM344.40,405.60V352.80H345.95V405.60ZM345.95,405.60V369.61H347.50V405.60ZM347.50,405.60V370.06H349.05V405.60ZM349.05,405.60V374.17H350.60V405.60ZM350.60,405.60V382.14H352.15V405.60ZM352.15,405.60V378.62H353.70V405.60ZM353.70,405.60V382.93H355.25V405.60ZM355.25,405.60V388.96H356.80V405.60ZM356.80,405.60V388.81H358.35V405.60ZM358.35,405.60V391.10H359.90V405.60ZM359.90,405.60V396.36H361.45V405.60ZM361.45,405.60V394.14H363.00V405.60ZM363.00,405.60V395.67H364.55V405.60ZM364.55,405.60V396.61H366.10V405.60ZM366.10,405.60V398.52H367.65V405.60ZM367.65,405.60V398.73H369.20V405.60ZM369.20,405.60V399.40H370.75V405.60ZM370.75,405.60V399.26H372.30V405.60ZM372.30,405.60V400.35H373.85V405.60ZM373.85,405.60V401.03H375.40V405.60ZM375.40,405.60V400.84H376.95V405.60ZM376.95,405.60V402.05H378.50V405.60ZM378.50,405.60V402.30H380.05V405.60ZM380.05,405.60V403.04H381.60V405.60ZM381.60,405.60V402.29H383.15V405.60ZM383.15,405.60V402.74H384.70V405.60ZM384.70,405.60V403.01H386.25V405.60ZM386.25,405.60V403.32H387.80V405.60ZM387.80,405.60V403.66H389.35V405.60ZM389.35,405.60V403.83H390.90V405.60ZM390.90,405.60V404.05H392.45V405.60ZM392.45,405.60V404.17H394.00V405.60ZM394.00,405.60V404.26H395.55V405.60ZM395.55,405.60V404.19H397.10V405.60ZM397.10,405.60V404.42H398.65V405.60ZM398.65,405.60V404.58H400.20V405.60ZM400.20,405.60V404.71H401.75V405.60ZM401.75,405.60V404.78H403.30V405.60ZM403.30,405.60V404.64H404.85V405.60ZM404.85,405.60V404.77H406.40V405.60ZM406.40,405.60V404.84H407.95V405.60ZM407.95,405.60V404.89H409.50V405.60ZM409.50,405.60V404.97H411.05V405.60ZM411.05,405.60V404.91H412.60V405.60ZM412.60,405.60V404.87H414.15V405.60ZM414.15,405.60V404.97H415.70V405.60ZM415.70,405.60V404.97H417.25V405.60ZM417.25,405.60V404.99H418.80V405.60ZM418.80,405.60V404.99H420.35V405.60ZM420.35,405.60V405.11H421.90V405.60ZM421.90,405.60V405.05H423.45V405.60ZM423.45,405.60V405.10H425.00V405.60ZM425.00,405.60V405.03H426.55V405.60ZM426.55,405.60V405.14H428.10V405.60ZM428.10,405.60V405.09H429.65V405.60ZM429.65,405.60V405.07H431.20V405.60ZM431.20,405.60V405.17H432.75V405.60ZM432.75,405.60V405.20H434.30V405.60ZM434.30,405.60V405.19H435.85V405.60ZM435.85,405.60V405.22H437.40V405.60Z" fill="#ff7f0e" fill-opacity="0.4"/>
<path d="M306.50,405.50 L306.96,405.49 L307.41,405.47 L307.87,405.43 L308.32,405.39 L308.78,405.33 L309.24,405.27 L309.69,405.20 L310.15,405.13 L310.60,405.05 L311.06,404.94 L311.52,404.82 L311.97,404.66 L312.43,404.48 L312.88,404.26 L313.34,403.98 L313.79,403.55 L314.25,403.00 L314.71,402.33 L315.16,401.32 L315.62,400.05 L316.07,398.52 L316.53,396.67 L316.99,394.66 L317.44,392.40 L317.90,390.01 L318.35,387.66 L318.81,384.93 L319.27,381.42 L319.72,377.25 L320.18,372.56 L320.63,367.48 L321.09,362.13 L321.55,356.43 L322.00,350.06 L322.46,343.22 L322.91,336.10 L323.37,328.89 L323.82,320.64 L324.28,312.81 L324.74,307.61 L325.19,303.66 L325.65,300.35 L326.10,297.43 L326.56,294.63 L327.02,291.82 L327.47,289.16 L327.93,286.80 L328.38,284.89 L328.84,283.40 L329.30,281.97 L329.75,280.76 L330.21,279.95 L330.66,279.70 L331.12,279.93 L331.58,280.43 L332.03,281.14 L332.49,281.98 L332.94,283.20 L333.40,285.07 L333.85,287.38 L334.31,289.92 L334.77,292.64 L335.22,295.90 L335.68,299.59 L336.13,303.49 L336.59,307.42 L337.05,311.21 L337.50,315.22 L337.96,319.27 L338.41,322.99 L338.87,326.06 L339.33,328.66 L339.78,331.00 L340.24,333.19 L340.69,335.37 L341.15,337.55 L341.61,339.67 L342.06,341.74 L342.52,343.78 L342.97,345.79 L343.43,347.79 L343.88,349.80 L344.34,351.82 L344.80,353.84 L345.25,355.81 L345.71,357.72 L346.16,359.54 L346.62,361.24 L347.08,362.88 L347.53,364.49 L347.99,366.06 L348.44,367.57 L348.90,369.03 L349.36,370.41 L349.81,371.71 L350.27,372.92 L350.72,374.04 L351.18,375.11 L351.64,376.14 L352.09,377.11 L352.55,378.02 L353.00,378.87 L353.46,379.66 L353.91,380.37 L354.37,381.03 L354.83,381.63 L355.28,382.20 L355.74,382.74 L356.19,383.24 L356.65,383.71 L357.11,384.14 L357.56,384.55 L358.02,384.92 L358.47,385.26 L358.93,385.57 L359.39,385.86 L359.84,386.16 L360.30,386.47 L360.75,386.80 L361.21,387.18 L361.67,387.57 L362.12,388.00 L362.58,388.44 L363.03,388.90 L363.49,389.38 L363.94,389.89 L364.40,390.46 L364.86,391.05 L365.31,391.64 L365.77,392.21 L366.22,392.74 L366.68,393.26 L367.14,393.79 L367.59,394.32 L368.05,394.84 L368.50,395.35 L368.96,395.83 L369.42,396.29 L369.87,396.72 L370.33,397.10 L370.78,397.44 L371.24,397.72 L371.70,397.97 L372.15,398.19 L372.61,398.40 L373.06,398.59 L373.52,398.77 L373.97,398.94 L374.43,399.09 L374.89,399.25 L375.34,399.39 L375.80,399.54 L376.25,399.68 L376.71,399.82 L377.17,399.95 L377.62,400.07 L378.08,400.19 L378.53,400.31 L378.99,400.42 L379.45,400.53 L379.90,400.64 L380.36,400.75 L380.81,400.86 L381.27,400.97 L381.73,401.08 L382.18,401.19 L382.64,401.30 L383.09,401.41 L383.55,401.52 L384.01,401.63 L384.46,401.73 L384.92,401.84 L385.37,401.95 L385.83,402.06 L386.28,402.16 L386.74,402.26 L387.20,402.37 L387.65,402.46 L388.11,402.56 L388.56,402.66 L389.02,402.75 L389.48,402.84 L389.93,402.93 L390.39,403.01 L390.84,403.09 L391.30,403.17 L391.76,403.24 L392.21,403.31 L392.67,403.39 L393.12,403.46 L393.58,403.53 L394.04,403.60 L394.49,403.67 L394.95,403.74 L395.40,403.81 L395.86,403.88 L396.31,403.94 L396.77,404.00 L397.23,404.06 L397.68,404.12 L398.14,404.18 L398.59,404.23 L399.05,404.28 L399.51,404.32 L399.96,404.37 L400.42,404.41 L400.87,404.44 L401.33,404.48 L401.79,404.51 L402.24,404.53 L402.70,404.56 L403.15,404.58 L403.61,404.61 L404.07,404.63 L404.52,404.66 L404.98,404.68 L405.43,404.71 L405.89,404.73 L406.34,404.75 L406.80,404.77 L407.26,404.79 L407.71,404.81 L408.17,404.83 L408.62,404.85 L409.08,404.86 L409.54,404.88 L409.99,404.90 L410.45,404.91 L410.90,404.92 L411.36,404.94 L411.82,404.95 L412.27,404.96 L412.73,404.97 L413.18,404.98 L413.64,404.98 L414.10,404.99 L414.55,405.00 L415.01,405.00 L415.46,405.00 L415.92,405.01 L416.37,405.01 L416.83,405.01 L417.29,405.02 L417.74,405.02 L418.20,405.02 L418.65,405.03 L419.11,405.03 L419.57,405.03 L420.02,405.03 L420.48,405.04 L420.93,405.04 L421.39,405.04 L421.85,405.04 L422.30,405.04 L422.76,405.05 L423.21,405.05 L423.67,405.05 L424.13,405.05 L424.58,405.05 L425.04,405.05 L425.49,405.06 L425.95,405.06 L426.40,405.06 L426.86,405.06 L427.32,405.06 L427.77,405.06 L428.23,405.07 L428.68,405.07 L429.14,405.07 L429.60,405.07 L430.05,405.07 L430.51,405.07 L430.96,405.07 L431.42,405.07 L431.88,405.08 L432.33,405.08 L432.79,405.08 L433.24,405.08 L433.70,405.08 L434.16,405.08 L434.61,405.08 L435.07,405.08 L435.52,405.09 L435.98,405.09 L436.43,405.09 L436.89,405.09 L437.35,405.09 L437.80,405.09 L438.26,405.09 L438.71,405.10 L439.17,405.10 L439.63,405.10 L440.08,405.10 L440.54,405.10 L440.99,405.10 L441.45,405.11 L441.91,405.11 L442.36,405.11 L442.82,405.11 L443.27,405.11 L443.73,405.11 L444.19,405.12 L444.64,405.12 L445.10,405.12 L445.55,405.12 L446.01,405.12 L446.46,405.13 L446.92,405.13 L447.38,405.13 L447.83,405.13 L448.29,405.13 L448.74,405.14 L449.20,405.14 L449.66,405.14 L450.11,405.14 L450.57,405.14 L451.02,405.15 L451.48,405.15 L451.94,405.15 L452.39,405.15 L452.85,405.15 L453.30,405.16 L453.76,405.16 L454.22,405.16 L454.67,405.16 L455.13,405.16 L455.58,405.17 L456.04,405.17 L456.49,405.17 L456.95,405.17 L457.41,405.17 L457.86,405.17 L458.32,405.18 L458.77,405.18 L459.23,405.18 L459.69,405.18 L460.14,405.18 L460.60,405.18 L461.05,405.19 L461.51,405.19 L461.97,405.19 L462.42,405.19 L462.88,405.19 L463.33,405.19 L463.79,405.19 L464.25,405.19 L464.70,405.19 L465.16,405.20 L465.61,405.20 L466.07,405.20 L466.53,405.20 L466.98,405.20 L467.44,405.20 L467.89,405.20 L468.35,405.20 L468.80,405.20 L469.26,405.20 L469.72,405.20 L470.17,405.20 L470.63,405.20 L471.08,405.20 L471.54,405.20 L472.00,405.20 L472.45,405.20 L472.91,405.20 L473.36,405.20 L473.82,405.20 L474.28,405.20 L474.73,405.20 L475.19,405.20 L475.64,405.20 L476.10,405.19 L476.56,405.19 L477.01,405.19 L477.47,405.19 L477.92,405.19 L478.38,405.19 L478.83,405.19 L479.29,405.19 L479.75,405.19 L480.20,405.19 L480.66,405.19 L481.11,405.18 L481.57,405.18 L482.03,405.18 L482.48,405.18 L482.94,405.18 L483.39,405.18 L483.85,405.18 L484.31,405.17 L484.76,405.17 L485.22,405.17 L485.67,405.17 L486.13,405.17 L486.59,405.17 L487.04,405.16 L487.50,405.16 L487.95,405.16 L488.41,405.16 L488.86,405.16 L489.32,405.15 L489.78,405.15 L490.23,405.15 L490.69,405.15 L491.14,405.15 L491.60,405.14 L492.06,405.14 L492.51,405.14 L492.97,405.14 L493.42,405.14 L493.88,405.13 L494.34,405.13 L494.79,405.13 L495.25,405.13 L495.70,405.12 L496.16,405.12 L496.62,405.12 L497.07,405.12 L497.53,405.11 L497.98,405.11 L498.44,405.11 L498.89,405.11 L499.35,405.10 L499.81,405.10 L500.26,405.10 L500.72,405.10 L501.17,405.09 L501.63,405.09 L502.09,405.08 L502.54,405.08 L503.00,405.07 L503.45,405.06 L503.91,405.06 L504.37,405.05 L504.82,405.04 L505.28,405.03 L505.73,405.02 L506.19,405.01 L506.65,405.01 L507.10,405.00 L507.56,404.99 L508.01,404.98 L508.47,404.97 L508.92,404.96 L509.38,404.95 L509.84,404.94 L510.29,404.93 L510.75,404.92 L511.20,404.91 L511.66,404.90 L512.12,404.89 L512.57,404.88 L513.03,404.87 L513.48,404.87 L513.94,404.86 L514.40,404.85 L514.85,404.84 L515.31,404.84 L515.76,404.83 L516.22,404.82 L516.68,404.82 L517.13,404.81 L517.59,404.81 L518.04,404.81 L518.50,404.80 L518.95,404.80 L519.41,404.80 L519.87,404.80 L520.32,404.80 L520.78,404.80 L521.23,404.81 L521.69,404.81 L522.15,404.82 L522.60,404.83 L523.06,404.84 L523.51,404.85 L523.97,404.87 L524.43,404.88 L524.88,404.90 L525.34,404.91 L525.79,404.93 L526.25,404.94 L526.71,404.96 L527.16,404.97 L527.62,404.99 L528.07,405.00 L528.53,405.02 L528.98,405.03 L529.44,405.05 L529.90,405.07 L530.35,405.09 L530.81,405.10 L531.26,405.12 L531.72,405.14 L532.18,405.16 L532.63,405.18 L533.09,405.21 L533.54,405.23 L534.00,405.25" fill="none" stroke="#1f77b4" stroke-width="1.45" stroke-linejoin="round"/>
<path d="M311.00,405.55 L311.32,405.54 L311.64,405.52 L311.96,405.48 L312.28,405.43 L312.60,405.38 L312.92,405.31 L313.25,405.25 L313.57,405.16 L313.89,405.04 L314.21,404.91 L314.53,404.74 L314.85,404.55 L315.17,404.32 L315.49,404.00 L315.81,403.49 L316.13,402.85 L316.45,402.11 L316.77,401.20 L317.10,400.00 L317.42,398.63 L317.74,397.07 L318.06,395.27 L318.38,393.12 L318.70,390.62 L319.02,389.01 L319.34,387.90 L319.66,386.44 L319.98,383.46 L320.30,378.53 L320.62,372.41 L320.94,365.84 L321.27,359.56 L321.59,353.41 L321.91,346.88 L322.23,339.66 L322.55,330.89 L322.87,319.06 L323.19,310.15 L323.51,305.94 L323.83,302.77 L324.15,300.26 L324.47,298.03 L324.79,295.71 L325.12,292.95 L325.44,289.90 L325.76,286.74 L326.08,283.61 L326.40,280.65 L326.72,277.98 L327.04,275.74 L327.36,273.74 L327.68,271.85 L328.00,270.16 L328.32,268.74 L328.64,267.65 L328.96,266.82 L329.29,266.07 L329.61,265.49 L329.93,265.21 L330.25,265.25 L330.57,265.44 L330.89,265.74 L331.21,266.12 L331.53,266.54 L331.85,267.21 L332.17,268.19 L332.49,269.41 L332.81,270.81 L333.14,272.29 L333.46,273.80 L333.78,275.33 L334.10,277.00 L334.42,278.80 L334.74,280.71 L335.06,282.72 L335.38,284.82 L335.70,286.99 L336.02,289.21 L336.34,291.48 L336.66,293.78 L336.98,296.09 L337.31,298.43 L337.63,300.86 L337.95,303.39 L338.27,306.08 L338.59,308.95 L338.91,312.17 L339.23,316.00 L339.55,320.18 L339.87,324.41 L340.19,328.38 L340.51,331.79 L340.83,334.42 L341.16,336.64 L341.48,338.64 L341.80,340.45 L342.12,342.13 L342.44,343.75 L342.76,345.33 L343.08,346.95 L343.40,348.64 L343.72,350.38 L344.04,352.12 L344.36,353.85 L344.68,355.54 L345.01,357.17 L345.33,358.72 L345.65,360.16 L345.97,361.48 L346.29,362.73 L346.61,363.94 L346.93,365.10 L347.25,366.22 L347.57,367.30 L347.89,368.35 L348.21,369.37 L348.53,370.36 L348.85,371.32 L349.18,372.27 L349.50,373.20 L349.82,374.12 L350.14,375.05 L350.46,375.97 L350.78,376.88 L351.10,377.79 L351.42,378.68 L351.74,379.56 L352.06,380.41 L352.38,381.24 L352.70,382.05 L353.03,382.82 L353.35,383.56 L353.67,384.25 L353.99,384.91 L354.31,385.52 L354.63,386.08 L354.95,386.60 L355.27,387.09 L355.59,387.56 L355.91,388.00 L356.23,388.42 L356.55,388.83 L356.87,389.22 L357.20,389.59 L357.52,389.95 L357.84,390.30 L358.16,390.64 L358.48,390.97 L358.80,391.30 L359.12,391.62 L359.44,391.94 L359.76,392.25 L360.08,392.55 L360.40,392.85 L360.72,393.14 L361.05,393.42 L361.37,393.70 L361.69,393.97 L362.01,394.24 L362.33,394.50 L362.65,394.76 L362.97,395.01 L363.29,395.25 L363.61,395.49 L363.93,395.73 L364.25,395.95 L364.57,396.18 L364.89,396.40 L365.22,396.61 L365.54,396.82 L365.86,397.03 L366.18,397.23 L366.50,397.43 L366.82,397.63 L367.14,397.82 L367.46,398.01 L367.78,398.19 L368.10,398.37 L368.42,398.54 L368.74,398.70 L369.07,398.87 L369.39,399.02 L369.71,399.17 L370.03,399.31 L370.35,399.45 L370.67,399.59 L370.99,399.72 L371.31,399.85 L371.63,399.98 L371.95,400.10 L372.27,400.23 L372.59,400.34 L372.91,400.46 L373.24,400.57 L373.56,400.69 L373.88,400.79 L374.20,400.90 L374.52,401.00 L374.84,401.10 L375.16,401.19 L375.48,401.28 L375.80,401.37 L376.12,401.45 L376.44,401.54 L376.76,401.62 L377.09,401.69 L377.41,401.77 L377.73,401.84 L378.05,401.91 L378.37,401.98 L378.69,402.05 L379.01,402.12 L379.33,402.18 L379.65,402.24 L379.97,402.31 L380.29,402.37 L380.61,402.43 L380.93,402.49 L381.26,402.54 L381.58,402.60 L381.90,402.66 L382.22,402.71 L382.54,402.76 L382.86,402.82 L383.18,402.87 L383.50,402.92 L383.82,402.97 L384.14,403.02 L384.46,403.07 L384.78,403.12 L385.11,403.17 L385.43,403.22 L385.75,403.27 L386.07,403.32 L386.39,403.37 L386.71,403.42 L387.03,403.47 L387.35,403.51 L387.67,403.56 L387.99,403.60 L388.31,403.65 L388.63,403.69 L388.95,403.73 L389.28,403.77 L389.60,403.81 L389.92,403.84 L390.24,403.88 L390.56,403.91 L390.88,403.94 L391.20,403.97 L391.52,404.00 L391.84,404.03 L392.16,404.06 L392.48,404.08 L392.80,404.11 L393.13,404.14 L393.45,404.16 L393.77,404.19 L394.09,404.21 L394.41,404.24 L394.73,404.26 L395.05,404.29 L395.37,404.31 L395.69,404.33 L396.01,404.36 L396.33,404.38 L396.65,404.40 L396.97,404.42 L397.30,404.45 L397.62,404.47 L397.94,404.49 L398.26,404.51 L398.58,404.53 L398.90,404.55 L399.22,404.56 L399.54,404.58 L399.86,404.60 L400.18,404.62 L400.50,404.63 L400.82,404.65 L401.15,404.67 L401.47,404.68 L401.79,404.69 L402.11,404.71 L402.43,404.72 L402.75,404.73 L403.07,404.74 L403.39,404.76 L403.71,404.77 L404.03,404.78 L404.35,404.78 L404.67,404.79 L404.99,404.80 L405.32,404.81 L405.64,404.81 L405.96,404.82 L406.28,404.83 L406.60,404.83 L406.92,404.84 L407.24,404.84 L407.56,404.85 L407.88,404.85 L408.20,404.86 L408.52,404.86 L408.84,404.87 L409.17,404.87 L409.49,404.88 L409.81,404.88 L410.13,404.89 L410.45,404.89 L410.77,404.90 L411.09,404.90 L411.41,404.90 L411.73,404.91 L412.05,404.91 L412.37,404.92 L412.69,404.92 L413.02,404.92 L413.34,404.93 L413.66,404.93 L413.98,404.93 L414.30,404.94 L414.62,404.94 L414.94,404.94 L415.26,404.95 L415.58,404.95 L415.90,404.95 L416.22,404.96 L416.54,404.96 L416.86,404.96 L417.19,404.97 L417.51,404.97 L417.83,404.97 L418.15,404.98 L418.47,404.98 L418.79,404.98 L419.11,404.99 L419.43,404.99 L419.75,405.00 L420.07,405.00 L420.39,405.01 L420.71,405.01 L421.04,405.01 L421.36,405.02 L421.68,405.02 L422.00,405.03 L422.32,405.03 L422.64,405.03 L422.96,405.04 L423.28,405.04 L423.60,405.05 L423.92,405.05 L424.24,405.06 L424.56,405.06 L424.88,405.06 L425.21,405.07 L425.53,405.07 L425.85,405.08 L426.17,405.08 L426.49,405.09 L426.81,405.09 L427.13,405.09 L427.45,405.10 L427.77,405.10 L428.09,405.11 L428.41,405.11 L428.73,405.12 L429.06,405.12 L429.38,405.12 L429.70,405.13 L430.02,405.13 L430.34,405.14 L430.66,405.14 L430.98,405.14 L431.30,405.15 L431.62,405.15 L431.94,405.16 L432.26,405.16 L432.58,405.17 L432.90,405.17 L433.23,405.17 L433.55,405.18 L433.87,405.18 L434.19,405.19 L434.51,405.19 L434.83,405.20 L435.15,405.20 L435.47,405.20 L435.79,405.21 L436.11,405.21 L436.43,405.22 L436.75,405.22 L437.08,405.22 L437.40,405.23 L437.72,405.23 L438.04,405.24 L438.36,405.24 L438.68,405.25 L439.00,405.25" fill="none" stroke="#ff7f0e" stroke-width="1.45" stroke-linejoin="round"/>
</g>
<rect x="299.1" y="222.4" width="245.79999999999995" height="183.20000000000002" fill="none" stroke="#3a3a3a" stroke-width="0.8"/>
<text x="317.30" y="415.90" font-size="6.6" text-anchor="middle" fill="#111" stroke="#111" stroke-width="0.18">0</text>
<text x="368.85" y="415.90" font-size="6.6" text-anchor="middle" fill="#111" stroke="#111" stroke-width="0.18">1</text>
<text x="420.40" y="415.90" font-size="6.6" text-anchor="middle" fill="#111" stroke="#111" stroke-width="0.18">2</text>
<text x="471.95" y="415.90" font-size="6.6" text-anchor="middle" fill="#111" stroke="#111" stroke-width="0.18">3</text>
<text x="523.50" y="415.90" font-size="6.6" text-anchor="middle" fill="#111" stroke="#111" stroke-width="0.18">4</text>
<text x="294.10" y="408.25" font-size="6.6" text-anchor="end" fill="#111" stroke="#111" stroke-width="0.18">0.0</text>
<text x="294.10" y="378.60" font-size="6.6" text-anchor="end" fill="#111" stroke="#111" stroke-width="0.18">0.5</text>
<text x="294.10" y="348.95" font-size="6.6" text-anchor="end" fill="#111" stroke="#111" stroke-width="0.18">1.0</text>
<text x="294.10" y="319.30" font-size="6.6" text-anchor="end" fill="#111" stroke="#111" stroke-width="0.18">1.5</text>
<text x="294.10" y="289.65" font-size="6.6" text-anchor="end" fill="#111" stroke="#111" stroke-width="0.18">2.0</text>
<text x="294.10" y="260.00" font-size="6.6" text-anchor="end" fill="#111" stroke="#111" stroke-width="0.18">2.5</text>
<text x="294.10" y="230.35" font-size="6.6" text-anchor="end" fill="#111" stroke="#111" stroke-width="0.18">3.0</text>
<path d="M317.30,405.6v2.6M368.85,405.6v2.6M420.40,405.6v2.6M471.95,405.6v2.6M523.50,405.6v2.6M299.1,405.60h-2.6M299.1,375.95h-2.6M299.1,346.30h-2.6M299.1,316.65h-2.6M299.1,287.00h-2.6M299.1,257.35h-2.6M299.1,227.70h-2.6" stroke="#3a3a3a" stroke-width="0.8" fill="none"/>
<text x="422.00" y="425.60" font-size="6.6" text-anchor="middle" fill="#111" stroke="#111" stroke-width="0.18">HighLow</text>
<text x="0.00" y="315.30" font-size="6.6" text-anchor="middle" fill="#111" stroke="#111" stroke-width="0.18" transform="rotate(-90 0.00 315.30)"></text>
<rect x="503.3" y="225.5" width="38.00" height="22.70" rx="1.3" fill="#fff" fill-opacity="0.8" stroke="#ccc" stroke-width="0.6"/>
<rect x="505.80" y="229.30" width="14.0" height="4.6" fill="#1f77b4" fill-opacity="0.4"/>
<text x="526.00" y="234.01" font-size="6.6" text-anchor="start" fill="#111" stroke="#111" stroke-width="0.18">Buy</text>
<rect x="505.80" y="239.90" width="14.0" height="4.6" fill="#ff7f0e" fill-opacity="0.4"/>
<text x="526.00" y="244.61" font-size="6.6" text-anchor="start" fill="#111" stroke="#111" stroke-width="0.18">Sell</text>
</svg>
</body></html>
